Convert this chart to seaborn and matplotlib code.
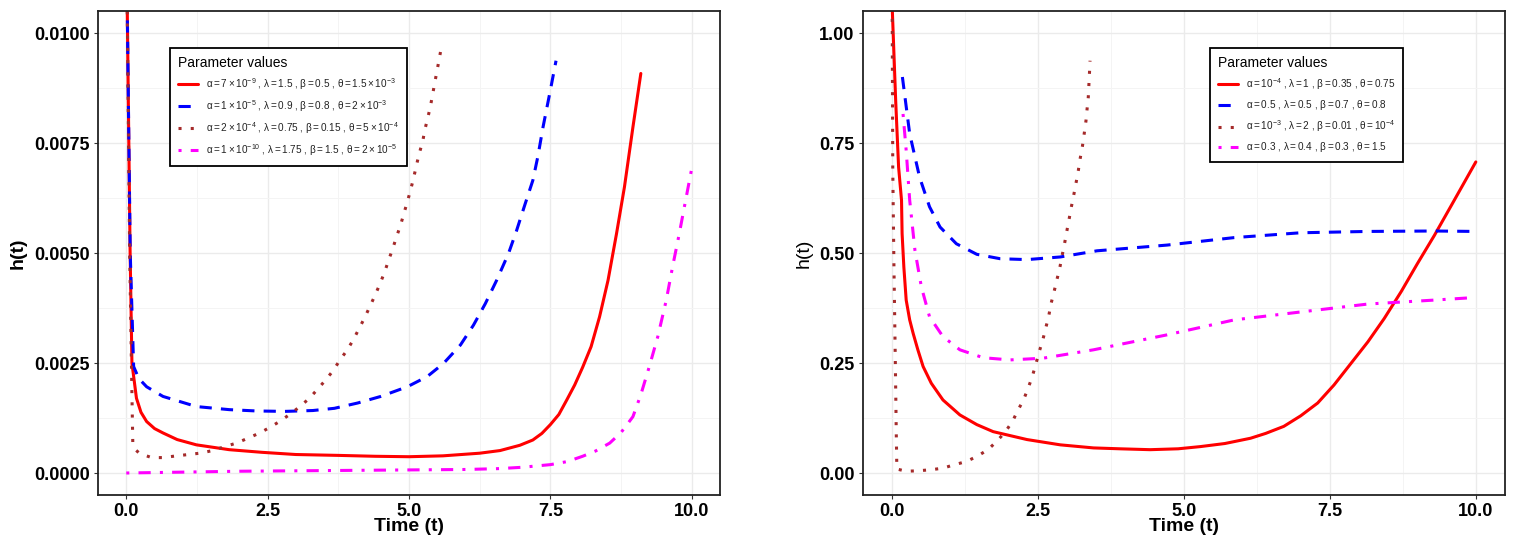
import numpy as np
import pandas as pd
import matplotlib
matplotlib.use("Agg")
import matplotlib.pyplot as plt
import seaborn as sns
from matplotlib.ticker import FixedLocator, FormatStrFormatter

# ---------------- data ----------------
# Left panel
L_red_t = [0.015, 0.067, 0.10, 0.14, 0.18, 0.26, 0.36, 0.50, 0.65, 0.90, 1.24, 1.82, 2.40, 3.00, 3.76, 4.40,
           5.00, 5.60, 6.25, 6.61, 6.96, 7.19, 7.35, 7.50, 7.65, 7.79, 7.93, 8.07, 8.22, 8.37, 8.52, 8.67, 8.81,
           8.96, 9.10]
L_red_h = [0.0108, 0.0051, 0.0025, 0.0021, 0.0017, 0.00138, 0.00117, 0.00101, 0.00091, 0.00076, 0.00064, 0.00053,
           0.00047, 0.00042, 0.00040, 0.00038, 0.00037, 0.00039, 0.00045, 0.00051, 0.00063, 0.00075, 0.0009,
           0.0011, 0.00133, 0.00166, 0.00200, 0.0024, 0.00287, 0.00355, 0.00438, 0.00544, 0.0065, 0.00786,
           0.00908]

L_blue_t = [0.015, 0.07, 0.13, 0.22, 0.36, 0.65, 1.24, 1.82, 2.30, 2.80, 3.30, 3.68, 4.09, 4.50, 4.97, 5.32, 5.61,
            5.91, 6.14, 6.35, 6.55, 6.76, 6.90, 7.05, 7.19, 7.28, 7.37, 7.50, 7.60]
L_blue_h = [0.0108, 0.0050, 0.00242, 0.00215, 0.00196, 0.00174, 0.00151, 0.00144, 0.00141, 0.0014, 0.00142,
            0.00147, 0.00159, 0.00174, 0.00196, 0.00219, 0.00249, 0.00291, 0.00336, 0.00385, 0.00438, 0.00499,
            0.00550, 0.0061, 0.00665, 0.0072, 0.00786, 0.0087, 0.00937]

L_brown_t = [0.015, 0.06, 0.10, 0.115, 0.17, 0.24, 0.45, 0.65, 0.89, 1.10, 1.30, 1.53, 1.74, 1.95, 2.15, 2.36,
             2.53, 2.71, 2.90, 3.07, 3.24, 3.38, 3.53, 3.66, 3.78, 3.91, 4.02, 4.12, 4.22, 4.31, 4.40, 4.49, 4.57,
             4.64, 4.71, 4.78, 4.85, 4.91, 4.97, 5.03, 5.08, 5.13, 5.18, 5.24, 5.28, 5.33, 5.38, 5.42, 5.46, 5.50,
             5.54, 5.58]
L_brown_h = [0.0108, 0.0050, 0.0018, 0.0007, 0.00052, 0.00044, 0.00035, 0.00035, 0.00039, 0.00042, 0.00045,
             0.00051, 0.0006, 0.00068, 0.00079, 0.00091, 0.00103, 0.00117, 0.00134, 0.00151, 0.0017, 0.0019,
             0.00212, 0.00233, 0.00257, 0.0028, 0.00304, 0.00329, 0.00354, 0.00379, 0.00404, 0.00431, 0.00457,
             0.00484, 0.00509, 0.00537, 0.00563, 0.0059, 0.00616, 0.00644, 0.0067, 0.00698, 0.00726, 0.00752,
             0.0078, 0.00806, 0.00834, 0.00862, 0.0089, 0.00917, 0.00945, 0.00973]

L_mag_t = [0.0, 1.0, 2.0, 3.0, 4.0, 5.0, 6.0, 6.6, 7.0, 7.5, 7.8, 8.07, 8.3, 8.55, 8.75, 8.96, 9.10, 9.25, 9.40,
           9.55, 9.66, 9.78, 9.87, 10.0]
L_mag_h = [0.0, 0.00002, 0.00004, 0.00005, 0.00006, 0.00007, 0.00008, 0.0001, 0.00013, 0.00019, 0.00026,
           0.00038, 0.0005, 0.00068, 0.00092, 0.00128, 0.00178, 0.00242, 0.0031, 0.00393, 0.00468, 0.00544,
           0.00605, 0.00692]

# Right panel
R_red_t = [0.0, 0.06, 0.11, 0.16, 0.17, 0.20, 0.24, 0.30, 0.36, 0.44, 0.53, 0.67, 0.87, 1.16, 1.45, 1.73, 2.31,
           2.88, 3.45, 3.90, 4.42, 4.90, 5.28, 5.70, 6.14, 6.40, 6.71, 7.00, 7.29, 7.57, 7.86, 8.15, 8.43, 8.72,
           9.00, 9.29, 9.58, 10.0]
R_red_h = [1.06, 0.846, 0.695, 0.62, 0.544, 0.468, 0.393, 0.348, 0.317, 0.280, 0.242, 0.204, 0.166, 0.132,
           0.110, 0.094, 0.076, 0.064, 0.057, 0.055, 0.053, 0.055, 0.060, 0.067, 0.079, 0.090, 0.106, 0.130,
           0.159, 0.200, 0.249, 0.298, 0.351, 0.412, 0.476, 0.540, 0.608, 0.707]

R_blue_t = [0.175, 0.30, 0.47, 0.64, 0.82, 1.10, 1.45, 1.85, 2.31, 2.88, 3.51, 4.71, 5.86, 7.00, 8.15, 9.29, 10.0]
R_blue_h = [0.90, 0.771, 0.672, 0.605, 0.559, 0.521, 0.497, 0.487, 0.485, 0.491, 0.505, 0.518, 0.535, 0.546,
            0.549, 0.550, 0.549]

R_brown_t = [0.0, 0.01, 0.03, 0.055, 0.07, 0.08, 0.24, 0.44, 0.67, 0.87, 1.07, 1.27, 1.47, 1.65, 1.79, 1.93,
             2.06, 2.16, 2.25, 2.33, 2.40, 2.46, 2.52, 2.58, 2.63, 2.68, 2.72, 2.77, 2.82, 2.87, 2.91, 2.95, 2.99,
             3.03, 3.07, 3.11, 3.15, 3.19, 3.22, 3.26, 3.29, 3.32, 3.34, 3.36, 3.37, 3.38, 3.39]
R_brown_h = [1.06, 0.69, 0.47, 0.242, 0.091, 0.009, 0.004, 0.005, 0.0075, 0.011, 0.019, 0.026, 0.039, 0.054,
             0.072, 0.092, 0.117, 0.144, 0.166, 0.193, 0.219, 0.247, 0.276, 0.302, 0.329, 0.355, 0.384, 0.41,
             0.438, 0.465, 0.493, 0.519, 0.548, 0.576, 0.605, 0.631, 0.659, 0.688, 0.714, 0.743, 0.771, 0.80,
             0.828, 0.854, 0.881, 0.908, 0.937]

R_mag_t = [0.186, 0.24, 0.30, 0.39, 0.50, 0.64, 0.87, 1.16, 1.56, 2.02, 2.59, 3.45, 4.71, 5.86, 7.00, 8.15,
           9.29, 10.0]
R_mag_h = [0.816, 0.733, 0.62, 0.506, 0.423, 0.355, 0.31, 0.28, 0.262, 0.257, 0.261, 0.28, 0.314, 0.348, 0.366,
           0.384, 0.393, 0.399]

left_labels = [r'$\alpha = 7\times10^{-9}$ , $\lambda = 1.5$ , $\beta = 0.5$ , $\theta = 1.5\times10^{-3}$',
               r'$\alpha = 1\times10^{-5}$ , $\lambda = 0.9$ , $\beta = 0.8$ , $\theta = 2\times10^{-3}$',
               r'$\alpha = 2\times10^{-4}$ , $\lambda = 0.75$ , $\beta = 0.15$ , $\theta = 5\times10^{-4}$',
               r'$\alpha = 1\times10^{-10}$ , $\lambda = 1.75$ , $\beta = 1.5$ , $\theta = 2\times10^{-5}$']
right_labels = [r'$\alpha = 10^{-4}$ , $\lambda = 1$ , $\beta = 0.35$ , $\theta = 0.75$',
                r'$\alpha = 0.5$ , $\lambda = 0.5$ , $\beta = 0.7$ , $\theta = 0.8$',
                r'$\alpha = 10^{-3}$ , $\lambda = 2$ , $\beta = 0.01$ , $\theta = 10^{-4}$',
                r'$\alpha = 0.3$ , $\lambda = 0.4$ , $\beta = 0.3$ , $\theta = 1.5$']

x_ticks = [0.0, 2.5, 5.0, 7.5, 10.0]
left_yticks = [0.0, 0.0025, 0.0050, 0.0075, 0.0100]
right_yticks = [0.0, 0.25, 0.50, 0.75, 1.00]

# ---------------- styling ----------------
sns.set_theme(style="white")
plt.rcParams['font.family'] = ['Liberation Sans', 'DejaVu Sans']
plt.rcParams['mathtext.fontset'] = 'custom'
plt.rcParams['mathtext.rm'] = 'Liberation Sans'
plt.rcParams['mathtext.it'] = 'Liberation Sans'
plt.rcParams['mathtext.bf'] = 'Liberation Sans:bold'
plt.rcParams['mathtext.default'] = 'regular'
plt.rcParams['text.color'] = 'black'
plt.rcParams['axes.labelcolor'] = 'black'
plt.rcParams['legend.labelcolor'] = '#222222'

colors = ['#FF0000', '#0000FF', '#A52A2A', '#FF00FF']
styles = ['-', (0, (4, 3)), (0, (1, 3)), (0, (1, 3, 4, 3))]
LW = 2.2

fig = plt.figure(figsize=(15.13, 5.5), dpi=100)
axL = fig.add_axes([98 / 1513, 1 - 495 / 550, (720 - 98) / 1513, (495 - 11) / 550])
axR = fig.add_axes([863 / 1513, 1 - 495 / 550, (1505 - 863) / 1513, (495 - 11) / 550])


def draw(ax, series, labels, yticks, yfmt, ylim, ylabel_bold, leg_x):
    handles = []
    for (t, h), lab, c, ls in zip(series, labels, colors, styles):
        df = pd.DataFrame({'t': t, 'h': h})
        sns.lineplot(data=df, x='t', y='h', ax=ax, color=c, linewidth=LW, linestyle=ls,
                     estimator=None, sort=False, label=lab, legend=False)
        handles.append(ax.lines[-1])
    ax.set_xlim(-0.5, 10.5)
    ax.set_ylim(*ylim)
    ax.xaxis.set_major_locator(FixedLocator(x_ticks))
    ax.xaxis.set_minor_locator(FixedLocator([1.25, 3.75, 6.25, 8.75]))
    ax.yaxis.set_major_locator(FixedLocator(yticks))
    step = yticks[1] - yticks[0]
    ax.yaxis.set_minor_locator(FixedLocator([y + step / 2 for y in yticks[:-1]]))
    ax.xaxis.set_major_formatter(FormatStrFormatter('%.1f'))
    ax.yaxis.set_major_formatter(FormatStrFormatter(yfmt))
    ax.grid(which='major', color='#EBEBEB', linewidth=1.0)
    ax.grid(which='minor', color='#F4F4F4', linewidth=0.7)
    ax.set_axisbelow(True)
    ax.tick_params(which='major', length=3, width=0.8, color='#333333', pad=3,
                   labelsize=13, labelcolor='black', left=True, bottom=True)
    ax.tick_params(which='minor', length=0)
    for lab in ax.get_xticklabels() + ax.get_yticklabels():
        lab.set_fontweight('bold')
    for s in ax.spines.values():
        s.set_color('#222222')
        s.set_linewidth(1.3)
    ax.set_xlabel('Time (t)', fontsize=14, fontweight='bold', labelpad=-2)
    ax.set_ylabel('h(t)', fontsize=14, fontweight='bold' if ylabel_bold else 'normal', labelpad=5)
    leg = ax.legend(handles=handles, labels=labels, title='Parameter values', loc='upper left',
                    bbox_to_anchor=(leg_x, 0.9236), fontsize=7.2, title_fontsize=10,
                    frameon=True, fancybox=False, framealpha=1, edgecolor='black',
                    handlelength=2.0, handletextpad=0.8, labelspacing=0.62, borderpad=0.8,
                    alignment='left', borderaxespad=0)
    leg.get_frame().set_linewidth(1.3)


draw(axL, [(L_red_t, L_red_h), (L_blue_t, L_blue_h), (L_brown_t, L_brown_h), (L_mag_t, L_mag_h)],
     left_labels, left_yticks, '%.4f', (-0.0005, 0.0105), True, (170 - 98) / 622)
draw(axR, [(R_red_t, R_red_h), (R_blue_t, R_blue_h), (R_brown_t, R_brown_h), (R_mag_t, R_mag_h)],
     right_labels, right_yticks, '%.2f', (-0.05, 1.05), False, (1210 - 863) / 642)

fig.savefig('out.png', dpi=100)
